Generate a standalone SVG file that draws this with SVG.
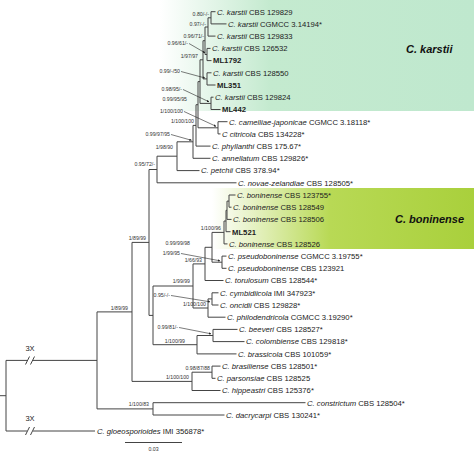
<svg xmlns="http://www.w3.org/2000/svg" width="474" height="451" viewBox="0 0 474 451">
<defs>
<linearGradient id="gk" x1="160" y1="0" x2="474" y2="0" gradientUnits="userSpaceOnUse">
<stop offset="0" stop-color="#ffffff"/>
<stop offset="0.35" stop-color="#c4eacf"/>
<stop offset="1" stop-color="#bfe8ce"/>
</linearGradient>
<linearGradient id="gb" x1="212" y1="0" x2="474" y2="0" gradientUnits="userSpaceOnUse">
<stop offset="0" stop-color="#ffffff"/>
<stop offset="0.45" stop-color="#b8d955"/>
<stop offset="1" stop-color="#a9d03c"/>
</linearGradient>
<marker id="ah" viewBox="0 0 6 6" refX="5.5" refY="3" markerWidth="4" markerHeight="4" orient="auto">
<path d="M0,0 L6,3 L0,6 z" fill="#222"/>
</marker>
<style>
.tip{font-family:"Liberation Sans",Arial,sans-serif;font-size:7.7px;fill:#222}
.sp{font-style:italic}
.ml{font-weight:bold}
.sup{font-family:"Liberation Sans",Arial,sans-serif;font-size:5.2px;fill:#333;text-anchor:end}
.ttl{font-family:"Liberation Sans",Arial,sans-serif;font-size:11px;font-weight:bold;font-style:italic;fill:#111}
.br{fill:none;stroke:#444;stroke-width:1}
.pt{fill:none;stroke:#222;stroke-width:0.6;marker-end:url(#ah)}
.lab{font-family:"Liberation Sans",Arial,sans-serif;font-size:7.5px;fill:#222}
</style>
</defs>
<rect id="box-karstii" x="160" y="0" width="314" height="111" fill="url(#gk)"/>
<rect id="box-boninense" x="212" y="188" width="262" height="61" fill="url(#gb)"/>
<text class="ttl" x="406" y="53">C. karstii</text>
<text class="ttl" x="395" y="223">C. boninense</text>
<g id="connectors">
<path class="br" d="M211 11.7V23.9M208 17.8V36.1M207 48.4V60.6M205 27V54.5M207 72.8V85M203 40.7V78.9M211 97.2V109.5M200 59.8V103.4M218 121.7V133.9M198 81.6V127.8M196 104.7V146.1M193 125.4V158.3M177 141.8V170.6M157 156.2V182.8M229 195V207.2M227 201.1V219.4M226 210.3V231.7M224 221V243.9M222 256.1V268.3M212 232.4V262.2M205 247.3V280.5M212 292.8V305M208 298.9V317.2M193 263.9V308M213 329.4V341.6M197 335.5V353.9M153 286V344.7M149 169.5V315.4M212 366.1V378.3M192 372.2V390.5M132 242.4V381.4M153 402.7V415M97 311.9V408.9M6 360.4V431"/>
<path class="br" d="M208 17.8H211M205 27H208M205 54.5H207M203 40.7H205M203 78.9H207M200 59.8H203M200 103.4H211M198 81.6H200M198 127.8H218M196 104.7H198M193 125.4H196M177 141.8H193M157 156.2H177M149 169.5H157M227 201.1H229M226 210.3H227M224 221H226M212 232.4H224M212 262.2H222M205 247.3H212M208 298.9H212M193 263.9H205M193 308H208M197 335.5H213M153 286H193M153 344.7H197M149 315.4H153M192 372.2H212M132 242.4H149M132 381.4H192M97 311.9H132M97 408.9H153M6 360.4H27M33 360.4H97M0 395.7H6"/>
<path class="br" d="M211 11.7H215.5M211 23.9H226.5M208 36.1H215.5M207 48.4H210.5M207 60.6H211.5M207 72.8H211.5M207 85H215.5M211 97.2H213.5M211 109.5H220.5M218 121.7H227.5M218 133.9H220.5M196 146.1H210.5M193 158.3H210.5M177 170.6H199.5M157 182.8H236.5M229 195H235.5M229 207.2H231.5M227 219.4H231.5M226 231.7H230.5M224 243.9H227.5M222 256.1H226.5M222 268.3H226.5M205 280.5H223.5M212 292.8H218.5M212 305H218.5M208 317.2H225.5M213 329.4H237.5M213 341.6H244.5M197 353.9H236.5M212 366.1H220.5M212 378.3H215.5M192 390.5H220.5M153 402.7H305.5M153 415H224.5M6 431H27M33 431H95"/>
<path class="br" d="M25.5 364.5L29.5 356.5M30.5 364.5L34.5 356.5M25.5 435L29.5 427M30.5 435L34.5 427"/>
<path class="pt" d="M189 43.5L205 52.8"/>
<path class="pt" d="M181 71.5L205 78"/>
<path class="pt" d="M183 89.5L209 101.8"/>
<path class="pt" d="M184 111.5L216 126.3"/>
<path class="pt" d="M171 134.5L191.5 140.3"/>
<path class="pt" d="M181 253.5L220 260.8"/>
<path class="pt" d="M171 295.5L210 301.8"/>
<path class="pt" d="M179 327.5L211 333.8"/>
<path class="br" d="M125 442.5H182"/>
</g>
<g id="support">
<text class="sup" x="209" y="15.5">0.80/-/-</text>
<text class="sup" x="206" y="25.5">0.97/-/-</text>
<text class="sup" x="204" y="38">0.96/71/-</text>
<text class="sup" x="188" y="45">0.96/61/-</text>
<text class="sup" x="198" y="58">1/97/97</text>
<text class="sup" x="180" y="73">0.99/-/50</text>
<text class="sup" x="182" y="91">0.98/95/-</text>
<text class="sup" x="187" y="101">0.99/95/95</text>
<text class="sup" x="183" y="113">1/100/100</text>
<text class="sup" x="194" y="123">1/100/100</text>
<text class="sup" x="170" y="136">0.99/97/95</text>
<text class="sup" x="173" y="149">1/98/90</text>
<text class="sup" x="155" y="166">0.95/72/-</text>
<text class="sup" x="146" y="239.5">1/89/99</text>
<text class="sup" x="221" y="230">1/100/96</text>
<text class="sup" x="190" y="245">0.99/99/98</text>
<text class="sup" x="180" y="255">1/99/95</text>
<text class="sup" x="202" y="261.5">1/66/93</text>
<text class="sup" x="190" y="283">1/99/99</text>
<text class="sup" x="170" y="297">0.95/-/-</text>
<text class="sup" x="206" y="306">1/100/100</text>
<text class="sup" x="178" y="329">0.99/81/-</text>
<text class="sup" x="185" y="342.5">1/100/99</text>
<text class="sup" x="210" y="369.5">0.98/87/88</text>
<text class="sup" x="189" y="379">1/100/100</text>
<text class="sup" x="128" y="309.5">1/89/99</text>
<text class="sup" x="149" y="406">1/100/83</text>
</g>
<g id="t0"><text class="tip" x="217" y="14.5"><tspan class="sp">C. karstii</tspan> CBS 129829</text></g>
<g id="t1"><text class="tip" x="228" y="26.7"><tspan class="sp">C. karstii</tspan> CGMCC 3.14194*</text></g>
<g id="t2"><text class="tip" x="217" y="38.9"><tspan class="sp">C. karstii</tspan> CBS 129833</text></g>
<g id="t3"><text class="tip" x="212" y="51.2"><tspan class="sp">C. karstii</tspan> CBS 126532</text></g>
<g id="t4"><text class="tip ml" x="213" y="63.4">ML1792</text></g>
<g id="t5"><text class="tip" x="213" y="75.6"><tspan class="sp">C. karstii</tspan> CBS 128550</text></g>
<g id="t6"><text class="tip ml" x="217" y="87.8">ML351</text></g>
<g id="t7"><text class="tip" x="215" y="100"><tspan class="sp">C. karstii</tspan> CBS 129824</text></g>
<g id="t8"><text class="tip ml" x="222" y="112.3">ML442</text></g>
<g id="t9"><text class="tip" x="229" y="124.5"><tspan class="sp">C. camelliae-japonicae</tspan> CGMCC 3.18118*</text></g>
<g id="t10"><text class="tip" x="222" y="136.7"><tspan class="sp">C citricola</tspan> CBS 134228*</text></g>
<g id="t11"><text class="tip" x="212" y="148.9"><tspan class="sp">C. phyllanthi</tspan> CBS 175.67*</text></g>
<g id="t12"><text class="tip" x="212" y="161.1"><tspan class="sp">C. annellatum</tspan> CBS 129826*</text></g>
<g id="t13"><text class="tip" x="201" y="173.4"><tspan class="sp">C. petchii</tspan> CBS 378.94*</text></g>
<g id="t14"><text class="tip" x="238" y="185.6"><tspan class="sp">C. novae-zelandiae</tspan> CBS 128505*</text></g>
<g id="t15"><text class="tip" x="237" y="197.8"><tspan class="sp">C. boninense</tspan> CBS 123755*</text></g>
<g id="t16"><text class="tip" x="233" y="210"><tspan class="sp">C. boninense</tspan> CBS 128549</text></g>
<g id="t17"><text class="tip" x="233" y="222.2"><tspan class="sp">C. boninense</tspan> CBS 128506</text></g>
<g id="t18"><text class="tip ml" x="232" y="234.5">ML521</text></g>
<g id="t19"><text class="tip" x="229" y="246.7"><tspan class="sp">C. boninense</tspan> CBS 128526</text></g>
<g id="t20"><text class="tip" x="228" y="258.9"><tspan class="sp">C. pseudoboninense</tspan> CGMCC 3.19755*</text></g>
<g id="t21"><text class="tip" x="228" y="271.1"><tspan class="sp">C. pseudoboninense</tspan> CBS 123921</text></g>
<g id="t22"><text class="tip" x="225" y="283.3"><tspan class="sp">C. torulosum</tspan> CBS 128544*</text></g>
<g id="t23"><text class="tip" x="220" y="295.6"><tspan class="sp">C. cymbidiicola</tspan> IMI 347923*</text></g>
<g id="t24"><text class="tip" x="220" y="307.8"><tspan class="sp">C. oncidii</tspan> CBS 129828*</text></g>
<g id="t25"><text class="tip" x="227" y="320"><tspan class="sp">C. philodendricola</tspan> CGMCC 3.19290*</text></g>
<g id="t26"><text class="tip" x="239" y="332.2"><tspan class="sp">C. beeveri</tspan> CBS 128527*</text></g>
<g id="t27"><text class="tip" x="246" y="344.4"><tspan class="sp">C. colombiense</tspan> CBS 129818*</text></g>
<g id="t28"><text class="tip" x="238" y="356.7"><tspan class="sp">C. brassicola</tspan> CBS 101059*</text></g>
<g id="t29"><text class="tip" x="222" y="368.9"><tspan class="sp">C. brasiliense</tspan> CBS 128501*</text></g>
<g id="t30"><text class="tip" x="217" y="381.1"><tspan class="sp">C. parsonsiae</tspan> CBS 128525</text></g>
<g id="t31"><text class="tip" x="222" y="393.3"><tspan class="sp">C. hippeastri</tspan> CBS 125376*</text></g>
<g id="t32"><text class="tip" x="307" y="405.5"><tspan class="sp">C. constrictum</tspan> CBS 128504*</text></g>
<g id="t33"><text class="tip" x="226" y="417.8"><tspan class="sp">C. dacrycarpi</tspan> CBS 130241*</text></g>
<g id="t34"><text class="tip" x="97" y="433.8"><tspan class="sp">C. gloeosporioides</tspan> IMI 356878*</text></g>
<g id="breaks">
<text class="lab" x="30" y="351" text-anchor="middle">3X</text>
<text class="lab" x="30" y="421" text-anchor="middle">3X</text>
</g>
<g id="scale">
<text class="sup" x="153.5" y="450.5" style="text-anchor:middle">0.03</text>
</g>
</svg>
